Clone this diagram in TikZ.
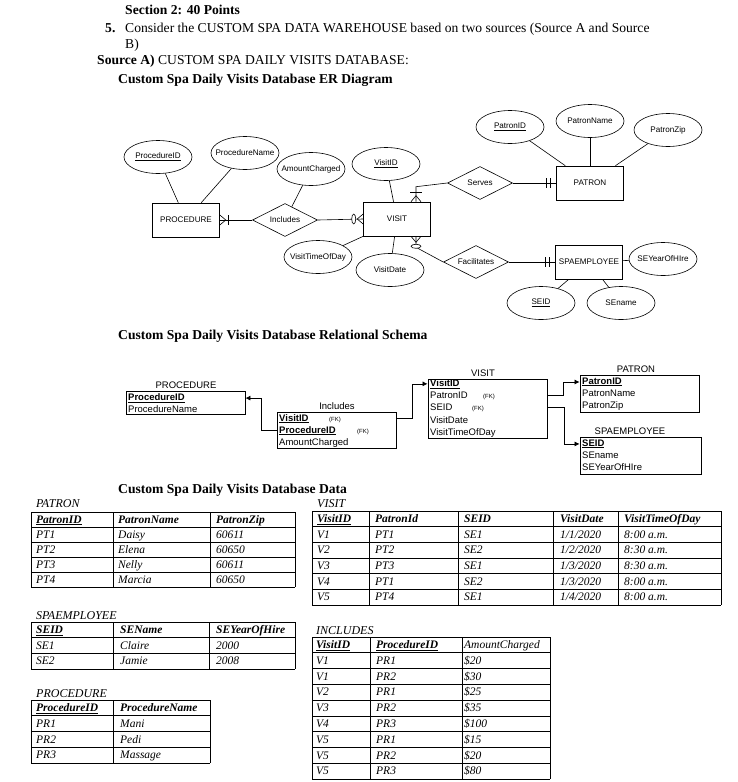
\documentclass[tikz,border=0pt]{standalone}
\usepackage{fontspec}
\setmainfont{Liberation Serif}
\newfontfamily\arialf{Liberation Sans}
\usetikzlibrary{shapes.geometric,arrows.meta,positioning,calc}
\newcommand{\zw}[1]{\makebox[0pt]{#1}}

\begin{document}
\begin{tikzpicture}[x=1pt,y=-1pt,
  attr/.style={ellipse, draw, line width=0.6pt, minimum width=68, minimum height=33, inner sep=0pt, font=\arialf\fontsize{8.1}{9}\selectfont},
  ent/.style={rectangle, draw, line width=0.6pt, minimum width=67, minimum height=34, inner sep=0pt, font=\arialf\fontsize{8.1}{9}\selectfont},
  rel/.style={diamond, draw, line width=0.6pt, aspect=2, minimum width=65, minimum height=33, inner sep=0pt, font=\arialf\fontsize{8.1}{9}\selectfont},
  erline/.style={line width=0.6pt},
  head/.style={anchor=base west, inner sep=0pt, font=\fontsize{13.6}{16}\selectfont},
  rbox/.style={rectangle, draw, line width=0.8pt, inner sep=0pt},
  rrow/.style={anchor=base west, inner sep=0pt, font=\arialf\fontsize{9.5}{11}\selectfont},
  rlab/.style={inner sep=0pt, font=\arialf\fontsize{9.5}{11}\selectfont},
  fkn/.style={anchor=base west, inner sep=0pt, font=\arialf\fontsize{6}{7}\selectfont},
  fk/.style={-{Latex[length=5pt,width=5pt]}, line width=0.7pt},
  cell/.style={anchor=base west, inner sep=0pt, font=\fontsize{11.5}{13}\selectfont\itshape},
  thead/.style={cell, font=\fontsize{11.5}{13}\selectfont\itshape\bfseries},
  tlab/.style={anchor=base west, inner sep=0pt, font=\fontsize{12}{14}\selectfont\itshape},
  tline/.style={line width=1pt}
]
\path[use as bounding box, fill=white] (0,0) rectangle (738,782);

% question text
\node[head] (sec) at (125,14) {\textbf{Section 2: 40 Points}};
\node[head] (q5n) at (105,32) {\textbf{5.}};
\node[head] (q5) at (125,32) {Consider the CUSTOM SPA DATA WAREHOUSE based on two sources (Source A and Source};
\node[head] (q5b) at (125,48) {B)};
\node[head] (srca) at (97,64) {\textbf{Source A)} CUSTOM SPA DAILY VISITS DATABASE:};
\node[head] (erttl) at (118,83) {\textbf{Custom Spa Daily Visits Database ER Diagram}};

% ER diagram
\node[attr] (a-pid) at (158,157) {\zw{\underline{ProcedureID}}};
\node[attr] (a-pnm) at (245,153) {\zw{ProcedureName}};
\node[attr] (a-amt) at (311,169) {\zw{AmountCharged}};
\node[attr] (a-vid) at (386,164) {\zw{\underline{VisitID}}};
\node[attr] (a-vtd) at (318,257) {\zw{VisitTimeOfDay}};
\node[attr] (a-vdt) at (390,270) {\zw{VisitDate}};
\node[attr] (a-ptid) at (510,127) {\zw{\underline{PatronID}}};
\node[attr] (a-ptnm) at (590,121) {\zw{PatronName}};
\node[attr] (a-ptzp) at (668,130) {\zw{PatronZip}};
\node[attr] (a-seyh) at (663,259) {\zw{SEYearOfHIre}};
\node[attr] (a-seid) at (541,303) {\zw{\underline{SEID}}};
\node[attr] (a-senm) at (621,303) {\zw{SEname}};

\node[ent] (procedure) at (186,220) {PROCEDURE};
\node[ent] (visit) at (397,219) {VISIT};
\node[ent] (patron) at (590,183) {PATRON};
\node[ent] (spaemp) at (589,262) {SPAEMPLOYEE};

\node[rel] (includes) at (285,220) {\zw{Includes}};
\node[rel] (serves) at (480,183) {\zw{Serves}};
\node[rel] (facil) at (476,262) {\zw{Facilitates}};

\foreach \a/\e in {a-pid/procedure, a-pnm/procedure, a-amt/includes, a-vid/visit, a-vdt/visit,
  a-ptid/patron, a-ptnm/patron, a-ptzp/patron, a-seyh/spaemp, a-seid/spaemp, a-senm/spaemp}
  \draw[erline] (\a) -- (\e);
\draw[erline] (a-vtd) -- (visit.south west);

% PROCEDURE -- Includes -- VISIT
\draw[erline] (procedure.east) -- (includes.west);
\draw[erline] ($(procedure.east)+(0,-5)$) -- ($(procedure.east)+(6,0)$) -- ($(procedure.east)+(0,5)$);
\draw[erline] ($(procedure.east)+(8,-5)$) -- ++(0,10);
\draw[erline] (includes.east) -- (visit.west);
\draw[erline] ($(visit.west)+(0,-5)$) -- ($(visit.west)+(-6,0)$) -- ($(visit.west)+(0,5)$);
\draw[erline, fill=white] ($(visit.west)+(-9.5,0)$) ellipse (2 and 5);

% VISIT -- Serves -- PATRON
\coordinate (vtop) at ($(visit.north)+(19,0)$);
\draw[erline] (serves.west) -- ($(vtop)+(0,-15)$) -- (vtop);
\draw[erline] ($(vtop)+(-5,0)$) -- ($(vtop)+(0,-6)$) -- ($(vtop)+(5,0)$);
\draw[erline] ($(vtop)+(-6,-9)$) -- ++(12,0);
\draw[erline] (serves.east) -- (patron.west);
\foreach \d in {6,10} \draw[erline] ($(patron.west)+(-\d,-5)$) -- ++(0,10);

% VISIT -- Facilitates -- SPAEMPLOYEE
\coordinate (vbot) at ($(visit.south)+(19,0)$);
\draw[erline] (vbot) -- ($(vbot)+(0,11)$) -- (facil.west);
\draw[erline] ($(vbot)+(-5,0)$) -- ($(vbot)+(0,6)$) -- ($(vbot)+(5,0)$);
\draw[erline, fill=white] ($(vbot)+(0,10)$) ellipse (5 and 2);
\draw[erline] (facil.east) -- (spaemp.west);
\foreach \d in {6,10} \draw[erline] ($(spaemp.west)+(-\d,-5)$) -- ++(0,10);

% relational schema
\node[head] (rsttl) at (118,339) {\textbf{Custom Spa Daily Visits Database Relational Schema}};

\node[rlab] (l-proc) at (186,385) {PROCEDURE};
\node[rlab] (l-inc) at (337,406) {Includes};
\node[rlab] (l-vis) at (483,373) {VISIT};
\node[rlab] (l-pat) at (636,369) {PATRON};
\node[rlab] (l-spa) at (630,431) {SPAEMPLOYEE};

\node[rbox, minimum width=119, minimum height=23] (r-proc) at (185.5,402.5) {};
\node[rbox, minimum width=119, minimum height=36] (r-inc) at (336.5,430) {};
\node[rbox, minimum width=119, minimum height=59] (r-vis) at (487.5,408.5) {};
\node[rbox, minimum width=119, minimum height=37] (r-pat) at (639.5,393.5) {};
\node[rbox, minimum width=121, minimum height=37] (r-spa) at (640.5,455.5) {};

\foreach \t [count=\i] in {{\textbf{\underline{ProcedureID}}}, ProcedureName}
  \node[rrow] (r-proc-\i) at (128,{389+11.5*\i}) {\t};
\foreach \t [count=\i] in {{\textbf{\underline{VisitID}}}, {\textbf{\underline{ProcedureID}}}, AmountCharged}
  \node[rrow] (r-inc-\i) at (279,{409+12*\i}) {\t};
\foreach \t [count=\i] in {{\textbf{\underline{VisitID}}}, PatronID, SEID, VisitDate, VisitTimeOfDay}
  \node[rrow] (r-vis-\i) at (430,{374+12.25*\i}) {\t};
\foreach \t [count=\i] in {{\textbf{\underline{PatronID}}}, PatronName, PatronZip}
  \node[rrow] (r-pat-\i) at (582,{372+12.2*\i}) {\t};
\foreach \t [count=\i] in {{\textbf{\underline{SEID}}}, SEname, SEYearOfHIre}
  \node[rrow] (r-spa-\i) at (582,{434+12.2*\i}) {\t};

\node[fkn] (fk-inc-1) at (329,421) {(FK)};
\node[fkn] (fk-inc-2) at (357,433) {(FK)};
\node[fkn] (fk-vis-2) at (483,398.5) {(FK)};
\node[fkn] (fk-vis-3) at (472,410.7) {(FK)};

\draw[fk] (r-inc.west |- r-inc-2) -- ++(-15,0) |- (r-proc.east |- r-proc-1);
\draw[fk] (r-inc.east |- r-inc-1) -- ++(16,0) |- (r-vis.west |- r-vis-1);
\draw[fk] (r-vis.east |- r-vis-2) -- ++(16,0) |- (r-pat.west |- r-pat-1);
\draw[fk] (r-vis.east |- r-vis-3) -- ++(17,0) |- (r-spa.west |- r-spa-1);

% data tables
\node[head] (dttl) at (118,493) {\textbf{Custom Spa Daily Visits Database Data}};

% PATRON
\node[tlab] (t-pat) at (36,507) {PATRON};
\foreach \h/\x [count=\j] in {{\underline{PatronID}}/36, PatronName/118, PatronZip/216}
  \node[thead] (pat-h\j) at (\x,523) {\h};
\foreach \a/\b/\c [count=\i] in {PT1/Daisy/60611, PT2/Elena/60650, PT3/Nelly/60611, PT4/Marcia/60650} {
  \node[cell] (pat-\i-1) at (36,{523+15*\i}) {\a};
  \node[cell] (pat-\i-2) at (118,{523+15*\i}) {\b};
  \node[cell] (pat-\i-3) at (216,{523+15*\i}) {\c};
}
\foreach \y in {512,527,...,587} \draw[tline] (31,\y) -- (295,\y);
\foreach \x in {31,113,210,295} \draw[tline] (\x,512) -- (\x,587);

% VISIT
\node[tlab] (t-vis) at (317,507) {VISIT};
\foreach \h/\x [count=\j] in {{\underline{VisitID}}/317, PatronId/375, SEID/464, VisitDate/560, VisitTimeOfDay/624}
  \node[thead] (vis-h\j) at (\x,522.5) {\h};
\foreach \a/\b/\c/\d/\e [count=\i] in {V1/PT1/SE1/{1/1/2020}/8:00 a.m., V2/PT2/SE2/{1/2/2020}/8:30 a.m.,
  V3/PT3/SE1/{1/3/2020}/8:30 a.m., V4/PT1/SE2/{1/3/2020}/8:00 a.m., V5/PT4/SE1/{1/4/2020}/8:00 a.m.} {
  \node[cell] (vis-\i-1) at (317,{522.5+15.67*\i}) {\a};
  \node[cell] (vis-\i-2) at (375,{522.5+15.67*\i}) {\b};
  \node[cell] (vis-\i-3) at (464,{522.5+15.67*\i}) {\c};
  \node[cell] (vis-\i-4) at (560,{522.5+15.67*\i}) {\d};
  \node[cell] (vis-\i-5) at (624,{522.5+15.67*\i}) {\e};
}
\foreach \i in {0,...,6} \draw[tline] (312,{511+15.67*\i}) -- (721,{511+15.67*\i});
\foreach \x in {312,369,458,553,618,721} \draw[tline] (\x,511) -- (\x,605);

% SPAEMPLOYEE
\node[tlab] (t-spa) at (36,619) {SPAEMPLOYEE};
\foreach \h/\x [count=\j] in {{\underline{SEID}}/36, SEName/120, SEYearOfHire/216}
  \node[thead] (spa-h\j) at (\x,633.5) {\h};
\foreach \a/\b/\c [count=\i] in {SE1/Claire/2000, SE2/Jamie/2008} {
  \node[cell] (spa-\i-1) at (36,{633.5+15.67*\i}) {\a};
  \node[cell] (spa-\i-2) at (120,{633.5+15.67*\i}) {\b};
  \node[cell] (spa-\i-3) at (216,{633.5+15.67*\i}) {\c};
}
\foreach \i in {0,...,3} \draw[tline] (31,{622+15.67*\i}) -- (295,{622+15.67*\i});
\foreach \x in {31,113,209,295} \draw[tline] (\x,622) -- (\x,669);

% PROCEDURE
\node[tlab] (t-proc) at (36,697) {PROCEDURE};
\foreach \h/\x [count=\j] in {{\underline{ProcedureID}}/36, ProcedureName/120}
  \node[thead] (proc-h\j) at (\x,711.5) {\h};
\foreach \a/\b [count=\i] in {PR1/Mani, PR2/Pedi, PR3/Massage} {
  \node[cell] (proc-\i-1) at (36,{711.5+15.75*\i}) {\a};
  \node[cell] (proc-\i-2) at (120,{711.5+15.75*\i}) {\b};
}
\foreach \i in {0,...,4} \draw[tline] (31,{700+15.75*\i}) -- (210,{700+15.75*\i});
\foreach \x in {31,113,210} \draw[tline] (\x,700) -- (\x,763);

% INCLUDES
\node[tlab] (t-inc) at (316,634) {INCLUDES};
\node[thead] (inc-h1) at (316,648.5) {\underline{VisitID}};
\node[thead] (inc-h2) at (376,648.5) {\underline{ProcedureID}};
\node[cell] (inc-h3) at (464,648.5) {AmountCharged};
\foreach \a/\b/\c [count=\i] in {V1/PR1/\$20, V1/PR2/\$30, V2/PR1/\$25, V3/PR2/\$35,
  V4/PR3/\$100, V5/PR1/\$15, V5/PR2/\$20, V5/PR3/\$80} {
  \node[cell] (inc-\i-1) at (316,{648.5+15.8*\i}) {\a};
  \node[cell] (inc-\i-2) at (376,{648.5+15.8*\i}) {\b};
  \node[cell] (inc-\i-3) at (464,{648.5+15.8*\i}) {\c};
}
\foreach \i in {0,...,9} \draw[tline] (312,{637+15.8*\i}) -- (550,{637+15.8*\i});
\foreach \x in {312,370,462,550} \draw[tline] (\x,637) -- (\x,779.2);
\end{tikzpicture}
\end{document}
